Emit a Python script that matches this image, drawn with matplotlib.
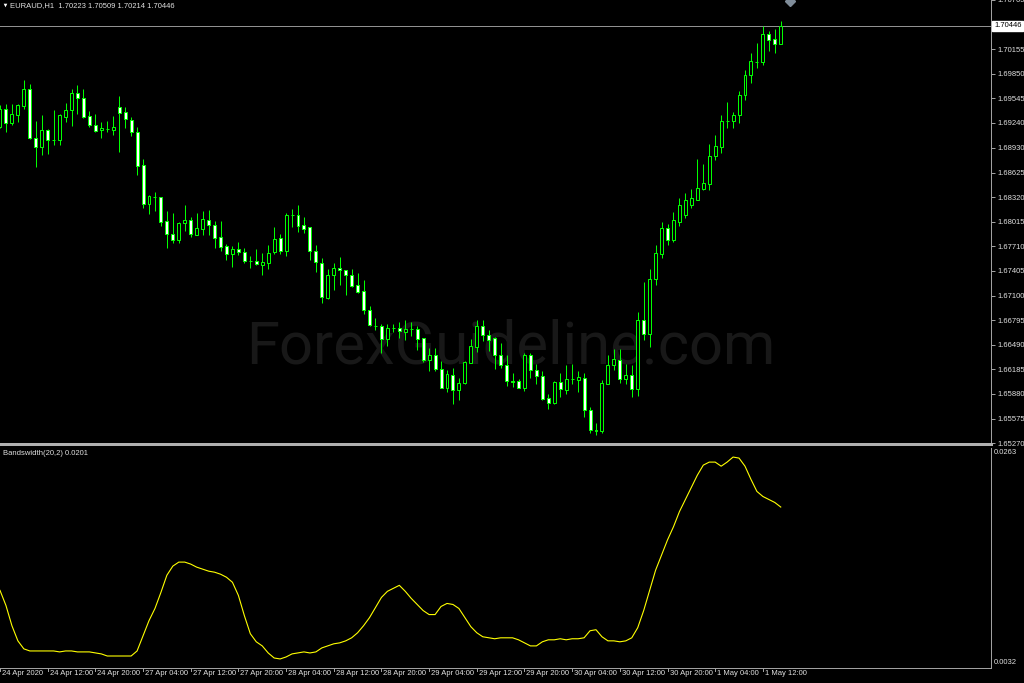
import matplotlib
matplotlib.use("Agg")
import matplotlib.pyplot as plt
import numpy as np

# ---------------- data ----------------
symbol_title = "EURAUD,H1  1.70223 1.70509 1.70214 1.70446"
indicator_title = "Bandswidth(20,2) 0.0201"

opens = [1.69188,1.69416,1.69238,1.69342,1.69448,1.69664,1.69052,1.68936,1.69156,1.69032,
         1.69032,1.69312,1.69395,1.69615,1.69548,1.69324,1.69221,1.69156,1.69168,1.69159,
         1.69436,1.69374,1.69283,1.69126,1.68722,1.68238,1.68320,1.68320,1.68019,1.67866,
         1.67783,1.67998,1.68040,1.67854,1.67928,1.68043,1.67978,1.67824,1.67709,1.67609,
         1.67671,1.67638,1.67531,1.67523,1.67482,1.67502,1.67638,1.67812,1.67650,1.68102,
         1.68102,1.67969,1.67944,1.67650,1.67507,1.67068,1.67358,1.67445,1.67420,1.67358,
         1.67234,1.67151,1.66924,1.66725,1.66717,1.66555,1.66701,1.66701,1.66646,1.66688,
         1.66679,1.66572,1.66304,1.66366,1.66192,1.65957,1.66118,1.65923,1.66019,1.66267,
         1.66460,1.66717,1.66605,1.66572,1.66366,1.66242,1.66035,1.66035,1.65957,1.66357,
         1.66171,1.66097,1.65828,1.65766,1.66026,1.65932,1.66068,1.66056,1.66081,1.65684,
         1.65427,1.65415,1.66006,1.66242,1.66304,1.66068,1.66118,1.65944,1.66791,1.66626,
         1.67299,1.67609,1.67932,1.67783,1.68006,1.68105,1.68217,1.68291,1.68424,1.68486,
         1.68828,1.68940,1.69262,1.69259,1.69333,1.69590,1.69841,1.69994,1.69994,1.70346,
         1.70284,1.70223]
highs = [1.69457,1.69478,1.69478,1.69478,1.69767,1.69726,1.69259,1.69333,1.69168,1.69404,
         1.69354,1.69490,1.69664,1.69705,1.69664,1.69383,1.69354,1.69250,1.69259,1.69321,
         1.69572,1.69436,1.69312,1.69188,1.68796,1.68350,1.68382,1.68322,1.68143,1.68127,
         1.68010,1.68229,1.68072,1.68127,1.68143,1.68167,1.68019,1.68019,1.67742,1.67712,
         1.67762,1.67693,1.67585,1.67680,1.67626,1.67721,1.67948,1.67866,1.68122,1.68176,
         1.68217,1.68072,1.67948,1.67721,1.67564,1.67423,1.67507,1.67576,1.67422,1.67432,
         1.67383,1.67296,1.66965,1.66825,1.66750,1.66750,1.66750,1.66770,1.66791,1.66770,
         1.66717,1.66574,1.66448,1.66452,1.66286,1.66171,1.66200,1.66076,1.66286,1.66564,
         1.66791,1.66791,1.66667,1.66584,1.66515,1.66357,1.66143,1.66068,1.66386,1.66386,
         1.66245,1.66159,1.65873,1.66038,1.66138,1.66233,1.66245,1.66162,1.66143,1.65716,
         1.65518,1.66056,1.66357,1.66440,1.66440,1.66245,1.66242,1.66894,1.67266,1.67423,
         1.67721,1.68006,1.67981,1.68130,1.68304,1.68366,1.68424,1.68796,1.68734,1.68982,
         1.69085,1.69342,1.69498,1.69374,1.69634,1.69903,1.70106,1.70230,1.70437,1.70378,
         1.70408,1.70509]
lows = [1.69172,1.69126,1.69218,1.69250,1.69416,1.69044,1.68692,1.68846,1.68858,1.68961,
        1.68973,1.69250,1.69200,1.69354,1.69300,1.69188,1.69126,1.69052,1.69126,1.69085,
        1.68878,1.69176,1.69076,1.68598,1.68184,1.68114,1.68143,1.67960,1.67688,1.67755,
        1.67755,1.67895,1.67824,1.67852,1.67854,1.67854,1.67688,1.67650,1.67535,1.67452,
        1.67597,1.67502,1.67440,1.67473,1.67349,1.67423,1.67613,1.67609,1.67585,1.67948,
        1.67886,1.67874,1.67535,1.67390,1.67010,1.67060,1.67163,1.67225,1.67101,1.67204,
        1.67135,1.66874,1.66717,1.66676,1.66391,1.66472,1.66646,1.66577,1.66543,1.66593,
        1.66428,1.66274,1.66162,1.66162,1.65955,1.65902,1.65758,1.65808,1.65997,1.66264,
        1.66398,1.66534,1.66410,1.66192,1.66200,1.65976,1.65964,1.65955,1.65914,1.66081,
        1.65997,1.65808,1.65687,1.65758,1.65840,1.65873,1.65997,1.65902,1.65592,1.65394,
        1.65374,1.65399,1.65997,1.66171,1.66019,1.65997,1.65840,1.65852,1.66543,1.66460,
        1.67225,1.67560,1.67721,1.67758,1.67957,1.68056,1.68180,1.68279,1.68403,1.68412,
        1.68775,1.68871,1.69176,1.69176,1.69238,1.69519,1.69734,1.69920,1.69965,1.70127,
        1.70106,1.70214]
closes = [1.69416,1.69243,1.69354,1.69457,1.69664,1.69052,1.68940,1.69156,1.69032,1.69030,
          1.69333,1.69404,1.69615,1.69548,1.69312,1.69221,1.69138,1.69176,1.69170,1.69188,
          1.69362,1.69292,1.69126,1.68704,1.68238,1.68332,1.68318,1.68010,1.67866,1.67783,
          1.68003,1.68031,1.67866,1.67936,1.68052,1.67969,1.67816,1.67700,1.67618,1.67671,
          1.67638,1.67526,1.67529,1.67485,1.67510,1.67631,1.67804,1.67650,1.68102,1.68100,
          1.67960,1.67928,1.67647,1.67514,1.67080,1.67358,1.67445,1.67420,1.67349,1.67213,
          1.67142,1.66915,1.66729,1.66727,1.66555,1.66696,1.66699,1.66655,1.66688,1.66690,
          1.66564,1.66295,1.66366,1.66183,1.65957,1.66130,1.65923,1.66019,1.66274,1.66469,
          1.66717,1.66605,1.66552,1.66366,1.66242,1.66035,1.66033,1.65957,1.66366,1.66171,
          1.66097,1.65820,1.65771,1.66026,1.65935,1.66059,1.66066,1.66088,1.65684,1.65427,
          1.65425,1.66014,1.66242,1.66316,1.66068,1.66109,1.65944,1.66791,1.66626,1.67308,
          1.67622,1.67932,1.67783,1.68031,1.68217,1.68279,1.68313,1.68432,1.68499,1.68828,
          1.68952,1.69259,1.69266,1.69342,1.69593,1.69841,1.70003,1.69998,1.70346,1.70275,
          1.70223,1.70446]
bandwidth = [0.01135,0.00976,0.00764,0.00605,0.00521,0.00499,0.00499,0.00499,0.00499,0.00499,
             0.00489,0.00499,0.00499,0.00489,0.00489,0.00489,0.00478,0.00468,0.00446,0.00446,
             0.00446,0.00446,0.00446,0.00499,0.00658,0.00817,0.00945,0.01114,0.01294,0.01390,
             0.01432,0.01432,0.01411,0.01379,0.01358,0.01337,0.01326,0.01305,0.01273,0.01220,
             0.01082,0.00870,0.00680,0.00595,0.00552,0.00478,0.00425,0.00415,0.00436,0.00468,
             0.00478,0.00489,0.00478,0.00489,0.00531,0.00552,0.00574,0.00584,0.00605,0.00637,
             0.00690,0.00764,0.00849,0.00955,0.01061,0.01125,0.01157,0.01188,0.01125,0.01051,
             0.00987,0.00923,0.00881,0.00881,0.00966,0.00998,0.00987,0.00945,0.00849,0.00754,
             0.00690,0.00648,0.00637,0.00627,0.00637,0.00637,0.00637,0.00616,0.00584,0.00552,
             0.00552,0.00595,0.00616,0.00616,0.00627,0.00616,0.00627,0.00627,0.00637,0.00711,
             0.00722,0.00648,0.00605,0.00605,0.00595,0.00605,0.00637,0.00743,0.00923,0.01135,
             0.01347,0.01506,0.01665,0.01803,0.01962,0.02089,0.02217,0.02344,0.02450,0.02482,
             0.02482,0.02439,0.02482,0.02535,0.02524,0.02439,0.02301,0.02174,0.02121,0.02089,
             0.02058,0.02010]

price_ticks = [1.70765,1.70155,1.69850,1.69545,1.69240,1.68930,1.68625,1.68320,1.68015,
               1.67710,1.67405,1.67100,1.66795,1.66490,1.66185,1.65880,1.65575,1.65270]
current_price = 1.70446
ind_max, ind_min = 0.0263, 0.0032
time_labels = ["24 Apr 2020","24 Apr 12:00","24 Apr 20:00","27 Apr 04:00","27 Apr 12:00",
               "27 Apr 20:00","28 Apr 04:00","28 Apr 12:00","28 Apr 20:00","29 Apr 04:00",
               "29 Apr 12:00","29 Apr 20:00","30 Apr 04:00","30 Apr 12:00","30 Apr 20:00",
               "1 May 04:00","1 May 12:00"]
bars_per_label = 8

# ---------------- style ----------------
W, H = 1024, 683
FONT = "Liberation Sans"
FS = 5.5
TXT = "#e0e0e0"
GREEN = "#00ff00"
GRAY = "#a0a0a0"
px = 0.72  # 1 pixel in points

fig = plt.figure(figsize=(W/100, H/100), dpi=100, facecolor="black")

def frac(x0, y0, x1, y1):
    return [x0/W, 1 - y1/H, (x1-x0)/W, (y1-y0)/H]

ax1 = fig.add_axes(frac(0, 0, 991, 444))
ax2 = fig.add_axes(frac(0, 448, 991, 668))

n = len(opens)
idx = np.arange(n)
xmax = 991/5.96

for ax in (ax1, ax2):
    ax.set_facecolor("black")
    ax.set_xlim(0, xmax)
    for s in ("top", "left"):
        ax.spines[s].set_visible(False)
    ax.spines["right"].set_color(GRAY)
    ax.spines["right"].set_linewidth(px)
    ax.spines["bottom"].set_color(GRAY)
    ax.set_xticks([])

ax1.spines["bottom"].set_linewidth(3*px)
ax1.spines["bottom"].set_color("#b0b0b0")
ax2.spines["bottom"].set_linewidth(px)

# watermark
ax1.text(0.515, 0.218, "ForexGuideline.com", transform=ax1.transAxes,
         ha="center", va="center", fontsize=43, color="#181818", family="Roboto", zorder=0)

ax1.set_ylim(1.65259, 1.70765)

o = np.array(opens); c = np.array(closes); h = np.array(highs); l = np.array(lows)
bull = c >= o
ax1.vlines(idx, l, h, color=GREEN, lw=px, zorder=2)
body_bottom = np.minimum(o, c)
body_h = np.maximum(np.abs(c - o), 0.000005)
ax1.bar(idx[bull], body_h[bull], width=0.5, bottom=body_bottom[bull],
        facecolor="black", edgecolor=GREEN, linewidth=px, zorder=3)
ax1.bar(idx[~bull], body_h[~bull], width=0.5, bottom=body_bottom[~bull],
        facecolor="white", edgecolor=GREEN, linewidth=px, zorder=3)

# current price line + label
ax1.axhline(current_price, color="#909090", lw=px, zorder=1)
ax1.annotate(f"{current_price:.5f}", xy=(1, current_price), xycoords=("axes fraction", "data"),
             xytext=(3, 0), textcoords="offset pixels", ha="left", va="center",
             fontsize=FS, family=FONT, color="black",
             bbox=dict(boxstyle="square,pad=0.22", fc="white", ec="white"), annotation_clip=False)

# price axis
ax1.yaxis.tick_right()
ax1.set_yticks(price_ticks)
ax1.set_yticklabels([f"{v:.5f}" for v in price_ticks])
ax1.tick_params(axis="y", colors=GRAY, labelcolor=TXT, length=3, width=px, pad=1.5,
                labelsize=FS)
for t in ax1.get_yticklabels():
    t.set_family(FONT)

# indicator
ax2.plot(idx, bandwidth, color="#ffff00", lw=0.8, zorder=3)
ax2.set_ylim(ind_min, ind_max)
ax2.set_yticks([])
ax2.annotate(f"{ind_max:.4f}", xy=(1, 1), xycoords="axes fraction", xytext=(3, -1),
             textcoords="offset pixels", ha="left", va="top", fontsize=FS, family=FONT,
             color=TXT, annotation_clip=False)
ax2.annotate(f"{ind_min:.4f}", xy=(1, 0), xycoords="axes fraction", xytext=(3, 2),
             textcoords="offset pixels", ha="left", va="bottom", fontsize=FS, family=FONT,
             color=TXT, annotation_clip=False)
ax2.text(3/991, 1 - 2/220, indicator_title, transform=ax2.transAxes, ha="left", va="top",
         fontsize=FS, family=FONT, color=TXT)

# time axis
for k, lab in enumerate(time_labels):
    xi = k*bars_per_label
    ax2.plot([xi, xi], [0, -3/220], transform=ax2.get_xaxis_transform(), color=GRAY,
             lw=px, clip_on=False)
    ax2.annotate(lab, xy=(xi, 0), xycoords=("data", "axes fraction"), xytext=(2, -2),
                 textcoords="offset pixels", ha="left", va="top", fontsize=FS,
                 family=FONT, color=TXT, annotation_clip=False)

# title
fig.text(10/W, 1 - 5.5/H, symbol_title, ha="left", va="center", fontsize=FS,
         family=FONT, color=TXT)
fig.lines.append(plt.Line2D([5/W], [1 - 5/H], marker="v", markersize=2.6, color="white",
                            markeredgewidth=0, transform=fig.transFigure, figure=fig))
# small object marker at top
fig.lines.append(plt.Line2D([790/W], [1 - 1/H], marker="D", markersize=5, color="#7f8c99",
                            transform=fig.transFigure, figure=fig))

fig.savefig("out.png", dpi=100, facecolor="black")
